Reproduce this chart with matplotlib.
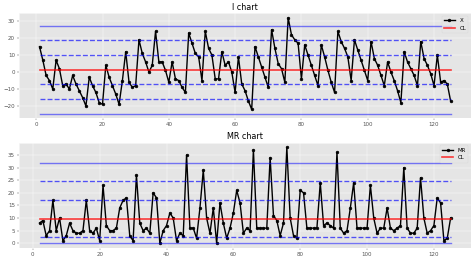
import numpy as np
import matplotlib
matplotlib.use("Agg")
import matplotlib.pyplot as plt

plt.style.use("ggplot")

x_values = [15, 7, -2, -5, -10, 7, 2, -8, -7, -10,
            -2, -7, -11, -15, -20, -3, -8, -12, -18, -19,
            4, -3, -8, -13, -19, -5, 12, -6, -9, -8,
            19, 11, 6, 0, 4, 24, 6, 6, 1, -6,
            6, -4, -5, -9, -12, 23, 17, 11, 9, -5,
            24, 14, 10, -4, -4, 12, 4, 6, 0, -12,
            9, -7, -11, -17, -22, 15, 9, 3, -3, -9,
            25, 14, 5, 2, -6, 32, 22, 19, 17, -4,
            16, 10, 4, -2, -8, 16, 9, 1, -6, -12,
            24, 18, 14, 9, -5, 19, 13, 7, 1, -5,
            18, 8, 4, -2, -8, 6, 0, -5, -11, -18,
            12, 6, 2, -2, -8, 18, 8, 4, -1, -8,
            10, -6, -5, -7, -17]

x = np.array(x_values, dtype=float)
idx = np.arange(1, len(x) + 1)

# moving ranges
mr = np.abs(np.diff(x))
mr_idx = idx[1:]

# control limits
cl_x = x.mean()
mr_bar = mr.mean()
sigma_x = mr_bar / 1.128
sigma_mr = 0.8525 * mr_bar / 1.128


def limit_line(ax, xs, y, style, **kw):
    ax.plot([xs[0], xs[-1]], [y, y], style, **kw)


fig, (ax1, ax2) = plt.subplots(2, 1, figsize=(11.85, 6.5))

# I chart
ax1.plot(idx, x, color="black", marker="o", markersize=5, linewidth=2.5, label="X")
limit_line(ax1, idx, cl_x, "r-", alpha=0.75, linewidth=3, label="CL")
for k in (3, -3):
    limit_line(ax1, idx, cl_x + k * sigma_x, "b-", alpha=0.5, linewidth=2.5)
for k in (2, 1, -1, -2):
    limit_line(ax1, idx, cl_x + k * sigma_x, "b--", alpha=0.65, linewidth=2.4)
ax1.set_title("I chart")
ax1.legend(loc="upper right")

# MR chart
ax2.plot(mr_idx, mr, color="black", marker="o", markersize=5, linewidth=2.5, label="MR")
limit_line(ax2, mr_idx, mr_bar, "r-", alpha=0.75, linewidth=3, label="CL")
for y in (3.267 * mr_bar, 0):
    limit_line(ax2, mr_idx, y, "b-", alpha=0.5, linewidth=2.5)
for k in (2, 1, -1):
    limit_line(ax2, mr_idx, mr_bar + k * sigma_mr, "b--", alpha=0.65, linewidth=2.4)
ax2.set_title("MR chart")
ax2.set_yticks(np.arange(0, 40, 5))
ax2.legend(loc="upper right")

plt.subplots_adjust(left=0.04, right=0.994, top=0.95, bottom=0.046, hspace=0.23)
plt.savefig("out.png", dpi=40)
